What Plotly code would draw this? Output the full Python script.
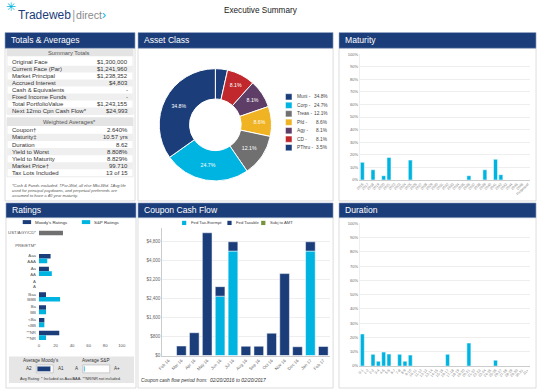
import plotly.graph_objects as go

FONT = "Liberation Sans, Arial, sans-serif"
NAVY = "#1b3d7a"
CYAN = "#00b4e1"
GRAY = "#707070"
GREEN = "#77933c"
W, H = 544, 392

# ---------------- data ----------------
summary_labels = ["Original Face", "Current Face (Par)", "Market Principal", "Accrued Interest",
                  "Cash & Equivalents", "Fixed Income Funds", "Total PortfolioValue",
                  "Next 12mo Cpn Cash Flow*"]
summary_values = ["$1,300,000", "$1,241,960", "$1,238,352", "$4,803", "-", "-",
                  "$1,243,155", "$24,993"]
weighted_labels = ["Coupon†", "Maturity‡", "Duration", "Yield to Worst", "Yield to Maturity",
                   "Market Price†", "Tax Lots Included"]
weighted_values = ["2.640%", "10.57 yrs", "8.62", "8.808%", "8.829%", "99.710", "13 of 15"]
footnote_lines = ["*Cash & Funds excluded. †Par-Wtd, all else Mkt-Wtd. ‡Avg life",
                  "used for principal paydowns, and perpetual preferreds are",
                  "assumed to have a 40 year maturity."]

asset_labels = ["Muni", "Corp", "Treas", "Pfd", "Agy", "CD", "PThru"]
asset_values = [34.8, 24.7, 12.1, 8.6, 8.1, 8.1, 3.5]
asset_colors = [NAVY, CYAN, GRAY, "#f0b323", "#5e3d66", "#c1282d", NAVY]

maturity_labels = ["2016", "2017", "2018", "2019", "2020", "2021", "2022", "2023", "2024", "2025",
                   "2026", "2027", "2028", "2029", "2030", "2031", "2032", "2033", "2034", "2035",
                   "2036", "2037", "2038", "2039", "2040", "2041", "2042", "2043", "2044", "2045",
                   "2046", "Perpetual"]
maturity_values = [14.0, None, 8.1, None, 3.4, 17.9, None, None, None, 15.8,
                   None, None, None, None, None, None, None, None, None, None,
                   3.4, None, None, 8.1, None, 16.4, 4.2, None, None, None,
                   None, None]

duration_labels = ["0-1", "1-2", "2-3", "3-4", "4-5", "5-6", "6-7", "7-8", "8-9", "9-10",
                   "10-11", "11-12", "12-13", "13-14", "14-15", "15-16", "16-17", "17-18", "18-19",
                   "19-20", "20-21", "21-22", "22-23", "23-24", "24-25", "25-26", "26-27", "27-28",
                   "28-29", "29-30", "30-31", "31+"]
duration_values = [22.5, None, 8.2, 3.4, 9.8, 8.4, None, 8.2, 3.4, 7.7,
                   None, None, None, None, None, None, 8.2, None, None, None,
                   16.1, None, None, None, None, 4.1, None, None, None, None,
                   None, None]

cf_months = ["Feb 16", "Mar 16", "Apr 16", "May 16", "Jun 16", "Jul 16", "Aug 16", "Sep 16",
             "Oct 16", "Nov 16", "Dec 16", "Jan 17", "Feb 17"]
cf_tax_exempt = [0, 0, 0, 0, 2500, 4400, 0, 0, 0, 0, 0, 4400, 0]
cf_taxable = [0, 400, 960, 5170, 400, 390, 390, 390, 940, 3450, 370, 390, 380]
cf_amt = [None] * 13
cf_ticks = [0, 800, 1600, 2400, 3200, 4000, 4800]
cf_tick_labels = ["$0", "$800", "$1,600", "$2,400", "$3,200", "$4,000", "$4,800"]
cf_names = ["Fed Tax-Exempt", "Fed Taxable", "Subj to AMT"]

rating_labels = ["UST/AGY/CD*", "PRE/ETM*", "Aaa<br>AAA", "Aa<br>AA", "A<br>A", "Baa<br>BBB",
                 "Ba<br>BB", "&lt;Ba<br>&lt;BB", "**NR<br>**NR"]
moodys_pct = [29, None, 14, 12, None, 8.5, 8.5, 6.5, 24.5]
sp_pct = [None, None, 10, 15.5, None, 25.5, 8.5, 6.5, 8.5]
rating_names = ["Moody's Ratings", "S&P Ratings"]
avg_moodys_pos = 0.88   # position between A2 and A1
avg_sp_pos = 0.05       # position between A and A+
avg_moodys_ends = ["A2", "A1"]
avg_sp_ends = ["A", "A+"]


def px(x):
    return x / W


def py(y):
    return 1 - y / H


shapes = []
annotations = []


def ann(x, y, text, size, color="#333", xanchor="left", yanchor="middle", **kw):
    annotations.append(dict(x=px(x), y=py(y), xref="paper", yref="paper", text=text,
                            showarrow=False, xanchor=xanchor, yanchor=yanchor,
                            font=dict(size=size, color=color, family=FONT), **kw))


def rect(x0, y0, x1, y1, fill=None, line=None, lw=0.8, layer="below"):
    shapes.append(dict(type="rect", xref="paper", yref="paper", x0=px(x0), x1=px(x1),
                       y0=py(y1), y1=py(y0), fillcolor=fill or "rgba(0,0,0,0)",
                       line=dict(color=line or "rgba(0,0,0,0)", width=lw if line else 0),
                       layer=layer))


fig = go.Figure()

# ---------------- Ratings ----------------
BW = 0.36
moodys_colors = [GRAY] + [NAVY] * (len(rating_labels) - 1)
moodys_offsets = [-BW / 2] + [-BW] * (len(rating_labels) - 1)
fig.add_trace(go.Bar(y=rating_labels, x=moodys_pct, orientation="h", name=rating_names[0],
                     marker=dict(color=moodys_colors, line=dict(width=0)),
                     offset=moodys_offsets, width=BW,
                     xaxis="x", yaxis="y", showlegend=False))
fig.add_trace(go.Bar(y=rating_labels, x=sp_pct, orientation="h", name=rating_names[1],
                     marker=dict(color=CYAN, line=dict(width=0)),
                     offset=0, width=BW,
                     xaxis="x", yaxis="y", showlegend=False))

# avg boxes
fig.add_trace(go.Bar(y=["m"], x=[avg_moodys_pos], orientation="h", marker=dict(color=NAVY),
                     xaxis="x5", yaxis="y5", showlegend=False, width=0.8))
fig.add_trace(go.Bar(y=["s"], x=[avg_sp_pos], orientation="h", marker=dict(color=CYAN),
                     xaxis="x6", yaxis="y6", showlegend=False, width=0.8))

# ---------------- Coupon Cash Flow ----------------
fig.add_trace(go.Bar(x=cf_months, y=cf_tax_exempt, name=cf_names[0], offsetgroup="cf",
                     marker=dict(color=CYAN, line=dict(color="white", width=0.5)),
                     xaxis="x2", yaxis="y2", showlegend=False))
fig.add_trace(go.Bar(x=cf_months, y=cf_taxable, base=cf_tax_exempt, name=cf_names[1],
                     offsetgroup="cf",
                     marker=dict(color=NAVY, line=dict(color="white", width=0.5)),
                     xaxis="x2", yaxis="y2", showlegend=False))
fig.add_trace(go.Bar(x=cf_months, y=cf_amt, name=cf_names[2], offsetgroup="cf",
                     marker=dict(color=GREEN), xaxis="x2", yaxis="y2", showlegend=False))

# ---------------- Maturity / Duration ----------------
fig.add_trace(go.Bar(x=maturity_labels, y=maturity_values,
                     marker=dict(color=CYAN, line=dict(color="white", width=0.5)),
                     xaxis="x3", yaxis="y3", showlegend=False))
fig.add_trace(go.Bar(x=duration_labels, y=duration_values,
                     marker=dict(color=CYAN, line=dict(color="white", width=0.5)),
                     xaxis="x4", yaxis="y4", showlegend=False))

# ---------------- Asset class pie ----------------
cx, cy, r = 214.5, 123.7, 57
fig.add_trace(go.Pie(labels=asset_labels[::-1], values=asset_values[::-1], hole=0.46, sort=False,
                     direction="clockwise", rotation=0,
                     marker=dict(colors=asset_colors[::-1], line=dict(color="white", width=1)),
                     texttemplate=[""] + ["%{value:.1f}%"] * 6,
                     textposition="inside", insidetextorientation="horizontal",
                     textfont=dict(size=5.2, color="white", family=FONT),
                     domain=dict(x=[px(cx - r), px(cx + r)], y=[py(cy + r), py(cy - r)]),
                     showlegend=False))

# ---------------- header ----------------
ann(0, 4, "✳", 12, CYAN)
ann(12, 12, "Tradeweb", 12, NAVY)
ann(67, 12, "|", 13, "#aaaaaa")
ann(71, 12, "direct", 10.6, "#8a8a8a")
ann(97, 12, "›", 12, CYAN)
ann(261, 8, "Executive Summary", 8.2, "#222", xanchor="center")

panels = [
    ((1, 30, 133, 46), (1, 46, 133, 201), "Totals & Averages"),
    ((136, 30, 334, 46), (136, 46, 334, 201), "Asset Class"),
    ((340, 30, 540, 46), (340, 46, 540, 201), "Maturity"),
    ((2, 203, 134, 218), (2, 218, 134, 391), "Ratings"),
    ((136, 203, 334, 218), (136, 218, 334, 391), "Coupon Cash Flow"),
    ((340, 203, 540, 218), (340, 218, 540, 391), "Duration"),
]
for (hx0, hy0, hx1, hy1), (bx0, by0, bx1, by1), title in panels:
    rect(bx0, by0, bx1, by1, fill="white", line="#d4d4d4", lw=0.8)
    rect(hx0, hy0, hx1, hy1, fill=NAVY, line="#9fb0cc", lw=0.6, layer="above")
    ann(hx0 + 4, (hy0 + hy1) / 2, title, 8.6, "white")

# ---------------- Totals table ----------------
rect(3, 47, 131, 113, line="#dcdcdc", lw=0.6)
rect(3, 47, 131, 54, fill="#e4e4e4")
ann(66, 50.5, "Summary Totals", 5.8, "#555", xanchor="center")
for i, (lab, val) in enumerate(zip(summary_labels, summary_values)):
    yc = 60 + i * 7.1
    if i % 2 == 1:
        rect(3, yc - 3.5, 131, yc + 3.5, fill="#efefef")
    ann(6, yc, lab, 6.0, "#333")
    ann(128, yc, val, 6.0, "#333", xanchor="right")

rect(3, 116.5, 131, 176.5, line="#dcdcdc", lw=0.6)
rect(3, 116.5, 131, 125, fill="#e4e4e4")
ann(66, 121, "Weighted Averages*", 5.8, "#555", xanchor="center")
for i, (lab, val) in enumerate(zip(weighted_labels, weighted_values)):
    yc = 129.3 + i * 7.2
    if i % 2 == 1:
        rect(3, yc - 3.6, 131, yc + 3.6, fill="#efefef")
    ann(6, yc, lab, 6.0, "#333")
    ann(128, yc, val, 6.0, "#333", xanchor="right")
for i, line in enumerate(footnote_lines):
    ann(6, 185 + i * 5, "<i>" + line + "</i>", 4.1, "#555")

# ---------------- pie legend ----------------
for i, (lab, val, col) in enumerate(zip(asset_labels, asset_values, asset_colors)):
    yc = 95.3 + i * 8.6
    rect(285.7, yc - 3.2, 292.3, yc + 3.2, fill=col, line="#ffffff", lw=0.5, layer="above")
    ann(295.5, yc, lab + " -", 4.8, "#444")
    ann(331, yc, f"{val:.1f}%", 4.8, "#444", xanchor="right")

# ---------------- coupon legend ----------------
cf_colors = [CYAN, NAVY, GREEN]
cf_leg_x = [180.7, 226.7, 261]
for name, col, lx in zip(cf_names, cf_colors, cf_leg_x):
    rect(lx, 221.2, lx + 4.3, 225.5, fill=col, layer="above")
    ann(lx + 7, 223.3, name, 4.2, "#444")
ann(137, 383.5, "<i>Coupon cash flow period from:  02/20/2016 to 02/20/2017</i>", 4.9, "#333")

# ---------------- ratings legend ----------------
for name, col, lx in zip(rating_names, [NAVY, CYAN], [19, 79]):
    rect(lx, 220.5, lx + 8.5, 224.5, fill=col, layer="above")
    ann(lx + 10.5, 222.5, name, 4.4, "#333")

# ---------------- ratings averages ----------------
rect(5, 359, 132, 386, fill="#e6e6e6")
rect(32.8, 367.6, 50, 375.6, fill="white", line="#b0b0b0", lw=0.6)
rect(80, 367.6, 107.3, 375.6, fill="white", line="#b0b0b0", lw=0.6)
ann(38, 363.2, "Average Moody's", 4.6, "#333", xanchor="center")
ann(93.5, 363.2, "Average S&P", 4.6, "#333", xanchor="center")
ann(30.5, 371.6, avg_moodys_ends[0], 4.6, "#333", xanchor="right")
ann(52.5, 371.6, avg_moodys_ends[1], 4.6, "#333")
ann(78, 371.6, avg_sp_ends[0], 4.6, "#333", xanchor="right")
ann(110, 371.6, avg_sp_ends[1], 4.6, "#333")
ann(67, 381.6, "Avg Rating: * Included as Aaa/AAA. **NR/NR not included.", 3.9, "#333",
    xanchor="center")

tick_font = dict(size=4, color="#666", family=FONT)
grid = "#eeeeee"

fig.update_layout(
    width=W, height=H, margin=dict(l=0, r=0, t=0, b=0), autosize=False,
    paper_bgcolor="white", plot_bgcolor="rgba(0,0,0,0)",
    font=dict(family=FONT),
    barmode="group", bargap=0.25, bargroupgap=0,
    shapes=shapes, annotations=annotations,
    # ratings
    xaxis=dict(domain=[px(35.5), px(119.5)], range=[0, 100], tickvals=[0, 20, 40, 60, 80, 100],
               ticksuffix="%", showgrid=False, zeroline=False,
               tickfont=dict(size=4.3, color="#555", family=FONT), anchor="y"),
    yaxis=dict(domain=[py(344), py(227)], autorange="reversed", type="category",
               showgrid=False, zeroline=False, tickfont=dict(size=4.3, color="#555", family=FONT),
               anchor="x", ticklen=0, ticklabelstandoff=2),
    # coupon
    xaxis2=dict(domain=[px(160.4), px(330.6)], anchor="y2", type="category", tickangle=-45,
                tickfont=dict(size=4.3, color="#666", family=FONT),
                showline=True, linecolor="#cccccc", linewidth=0.6, showgrid=False),
    yaxis2=dict(domain=[py(358), py(229)], anchor="x2", range=[0, 5350], tickvals=cf_ticks,
                ticktext=cf_tick_labels, gridcolor=grid, gridwidth=0.6, zeroline=False,
                showline=True, linecolor="#cccccc", linewidth=0.6,
                tickfont=dict(size=4.5, color="#666", family=FONT)),
    # maturity
    xaxis3=dict(domain=[px(361), px(534)], anchor="y3", type="category", tickangle=-45,
                tickfont=dict(size=3.6, color="#777", family=FONT),
                showline=True, linecolor="#cccccc", linewidth=0.6, showgrid=False),
    yaxis3=dict(domain=[py(179.7), py(52)], anchor="x3", range=[0, 100], dtick=10, ticksuffix="%",
                gridcolor=grid, gridwidth=0.6, zeroline=False, showline=True, linecolor="#eeeeee",
                linewidth=0.6, tickfont=tick_font),
    # duration
    xaxis4=dict(domain=[px(361), px(534)], anchor="y4", type="category", tickangle=-45,
                tickfont=dict(size=3.6, color="#777", family=FONT),
                showline=True, linecolor="#cccccc", linewidth=0.6, showgrid=False),
    yaxis4=dict(domain=[py(368.7), py(223.7)], anchor="x4", range=[0, 100], dtick=10, ticksuffix="%",
                gridcolor=grid, gridwidth=0.6, zeroline=False, showline=True, linecolor="#eeeeee",
                linewidth=0.6, tickfont=tick_font),
    # avg boxes
    xaxis5=dict(domain=[px(33.6), px(49.2)], anchor="y5", range=[0, 1], visible=False),
    yaxis5=dict(domain=[py(375), py(368.2)], anchor="x5", visible=False),
    xaxis6=dict(domain=[px(80.8), px(106.5)], anchor="y6", range=[0, 1], visible=False),
    yaxis6=dict(domain=[py(375), py(368.2)], anchor="x6", visible=False),
)

fig.write_html("out.html", config={"displayModeBar": False},
               post_script="document.body.style.margin='0';document.body.style.overflow='hidden';")
